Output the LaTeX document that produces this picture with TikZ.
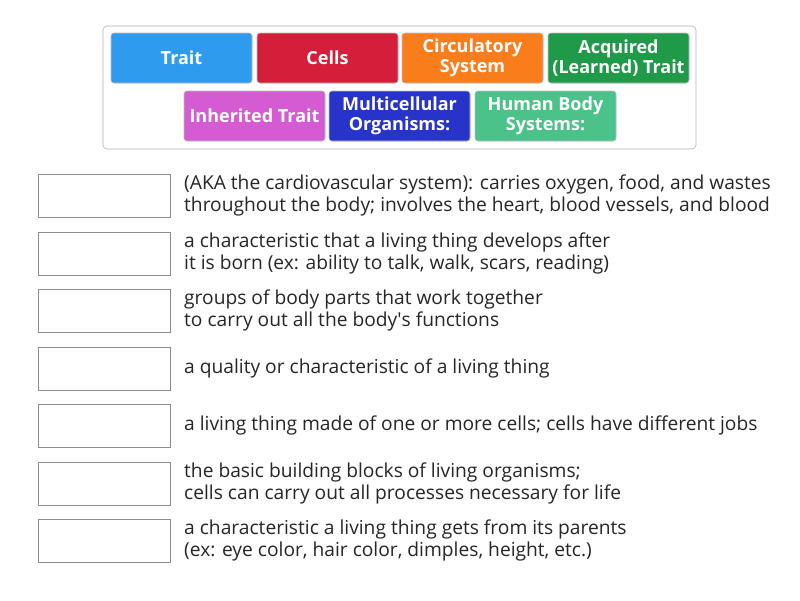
\documentclass[tikz,border=0pt]{standalone}
\usepackage{fontspec}
\setmainfont{Open Sans}
\begin{document}
\begin{tikzpicture}[x=1pt,y=-1pt,
 tile/.style={rounded corners=3pt,draw=black!25,line width=0.6pt,text=white,font=\fontsize{18}{20}\selectfont\bfseries,align=center,inner sep=0pt},
 ans/.style={draw=black!45,line width=0.6pt,fill=white},
 desc/.style={anchor=west,align=left,inner sep=0pt,text=black!85,font=\fontsize{19.2}{22}\selectfont}]
\useasboundingbox (0,0) rectangle (800,600);
\fill[white] (0,0) rectangle (800,600);
\draw[black!30,rounded corners=4pt,line width=0.6pt] (103,26) rectangle (696,149);
\def\tile#1#2#3#4#5{\fill[#4,rounded corners=3pt] (#2,#3) rectangle ++(141,50);
 \node[tile,minimum width=141pt,minimum height=50pt,fill=#4] (#1) at (#2+70.5,#3+25) {#5};}
\definecolor{cT}{HTML}{2E9BEF}\definecolor{cC}{HTML}{D51E39}\definecolor{cO}{HTML}{FA7D1C}
\definecolor{cA}{HTML}{1F9A48}\definecolor{cI}{HTML}{D45BD1}\definecolor{cM}{HTML}{2733C9}\definecolor{cH}{HTML}{4CC28B}
\tile{t1}{111}{33}{cT}{Trait}
\tile{t2}{257}{33}{cC}{Cells}
\tile{t3}{402}{33}{cO}{Circulatory\\System}
\tile{t4}{548}{33}{cA}{Acquired\\(Learned) Trait}
\tile{t5}{184}{91}{cI}{Inherited Trait}
\tile{t6}{329}{91}{cM}{Multicellular\\Organisms:}
\tile{t7}{475}{91}{cH}{Human Body\\Systems:}
\foreach \y/\t [count=\i] in {
174/{(AKA the cardiovascular system): carries oxygen, food, and wastes\\throughout the body; involves the heart, blood vessels, and blood},
232/{a characteristic that a living thing develops after\\it is born (ex: ability to talk, walk, scars, reading)},
289/{groups of body parts that work together\\to carry out all the body\textquotesingle s functions},
347/{a quality or characteristic of a living thing},
404/{a living thing made of one or more cells; cells have different jobs},
462/{the basic building blocks of living organisms;\\cells can carry out all processes necessary for life},
519/{a characteristic a living thing gets from its parents\\(ex: eye color, hair color, dimples, height, etc.)}}{
 \draw[ans] (38,\y) rectangle (170,\y+43);
 \node[desc] (d\i) at (184,\y+21) {\t};
}
\end{tikzpicture}
\end{document}
